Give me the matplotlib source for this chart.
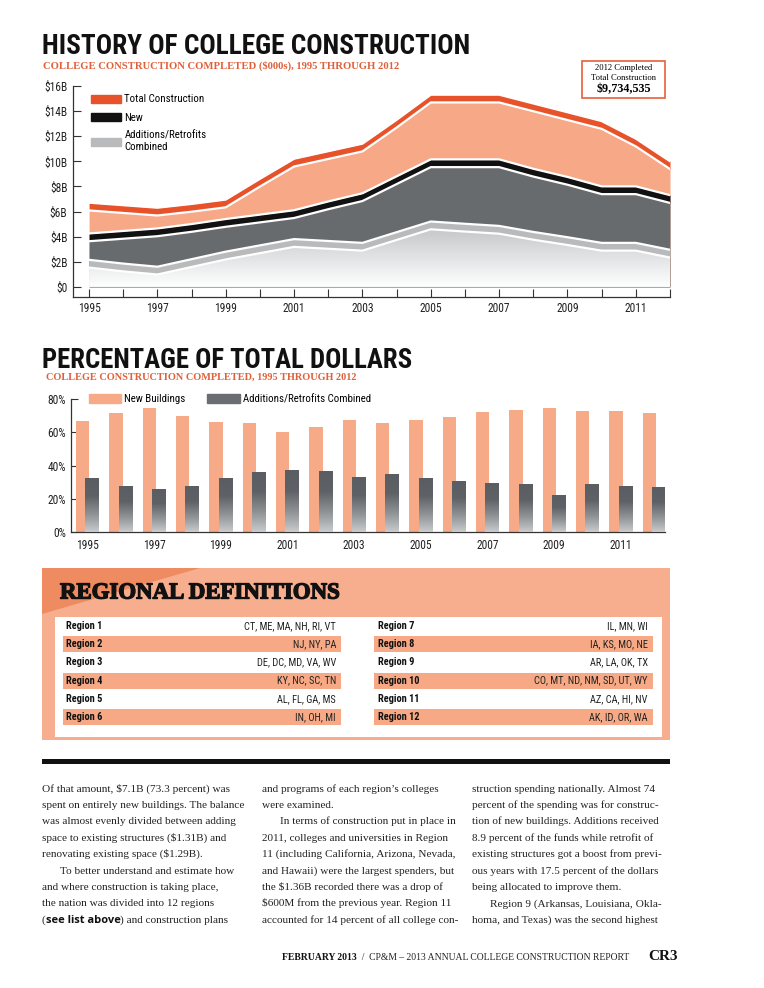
import numpy as np
import matplotlib.pyplot as plt
from matplotlib.patches import Patch, Rectangle, Polygon
from matplotlib.colors import LinearSegmentedColormap
from matplotlib import patheffects, font_manager

installed = {f.name for f in font_manager.fontManager.ttflist}
COND = [n for n in ['Liberation Sans Narrow', 'DejaVu Sans Condensed', 'Roboto Condensed']
        if n in installed] + ['DejaVu Sans']
SERIF = ['Liberation Serif', 'DejaVu Serif']
plt.rcParams['font.family'] = COND
plt.rcParams['font.stretch'] = 'condensed'

# --- data ---
years = np.arange(1995, 2013)
# $ billions, centre of each band
total_b = [6.4, 6.2, 6.0, 6.3, 6.65, 8.3, 9.9, 10.5, 11.1, 13.0, 15.0, 15.0, 15.0,
           14.3, 13.6, 12.9, 11.5, 9.7]
new_b = [3.95, 4.15, 4.35, 4.7, 5.1, 5.45, 5.8, 6.5, 7.15, 8.5, 9.85, 9.85, 9.85,
         9.1, 8.45, 7.7, 7.7, 7.0]
addret_b = [1.85, 1.55, 1.3, 1.9, 2.5, 3.0, 3.5, 3.35, 3.2, 4.05, 4.9, 4.72, 4.55,
            4.07, 3.65, 3.2, 3.2, 2.65]

pct_new = [66.9, 71.9, 74.7, 70.1, 66.3, 65.5, 60.2, 63.1, 67.5, 65.9, 67.3, 69.3,
           72.1, 73.5, 74.9, 72.7, 72.7, 71.5]
pct_addret = [32.4, 27.2, 25.6, 27.6, 32.4, 35.9, 37.3, 36.3, 33.2, 34.7, 32.2, 30.8,
              29.2, 28.4, 21.8, 28.4, 27.2, 26.6]

regions_left = ['Region 1', 'Region 2', 'Region 3', 'Region 4', 'Region 5', 'Region 6']
states_left = ['CT, ME, MA, NH, RI, VT', 'NJ, NY, PA', 'DE, DC, MD, VA, WV',
               'KY, NC, SC, TN', 'AL, FL, GA, MS', 'IN, OH, MI']
regions_right = ['Region 7', 'Region 8', 'Region 9', 'Region 10', 'Region 11', 'Region 12']
states_right = ['IL, MN, WI', 'IA, KS, MO, NE', 'AR, LA, OK, TX',
                'CO, MT, ND, NM, SD, UT, WY', 'AZ, CA, HI, NV', 'AK, ID, OR, WA']

col1 = ["Of that amount, $7.1B (73.3 percent) was",
        "spent on entirely new buildings. The balance",
        "was almost evenly divided between adding",
        "space to existing structures ($1.31B) and",
        "renovating existing space ($1.29B).",
        "To better understand and estimate how",
        "and where construction is taking place,",
        "the nation was divided into 12 regions"]
col2 = ["and programs of each region\u2019s colleges",
        "were examined.",
        "In terms of construction put in place in",
        "2011, colleges and universities in Region",
        "11 (including California, Arizona, Nevada,",
        "and Hawaii) were the largest spenders, but",
        "the $1.36B recorded there was a drop of",
        "$600M from the previous year. Region 11",
        "accounted for 14 percent of all college con-"]
col3 = ["struction spending nationally. Almost 74",
        "percent of the spending was for construc-",
        "tion of new buildings. Additions received",
        "8.9 percent of the funds while retrofit of",
        "existing structures got a boost from previ-",
        "ous years with 17.5 percent of the dollars",
        "being allocated to improve them.",
        "Region 9 (Arkansas, Louisiana, Okla-",
        "homa, and Texas) was the second highest"]

fig = plt.figure(figsize=(7.64, 9.88), dpi=100)
page = fig.add_axes([0, 0, 1, 1])
page.set_xlim(0, 764)
page.set_ylim(988, 0)
page.axis('off')
renderer = fig.canvas.get_renderer()


def px_axes(l, t, r, b):
    ax = fig.add_axes([l / 764, 1 - b / 988, (r - l) / 764, (b - t) / 988])
    ax.set_facecolor('none')
    return ax


def run(x, y, parts):
    # successive pieces of text on one baseline
    for s, kw in parts:
        t = page.text(x, y, s, va='baseline', parse_math=False, **kw)
        x += t.get_window_extent(renderer).width


def fit_width(t, width):
    w = t.get_window_extent(renderer).width
    t.set_fontsize(t.get_fontsize() * width / w)


ORANGE = '#e8522a'
SUB = '#e0603a'

# ---------------- headings ----------------
t = page.text(42, 47, 'HISTORY OF COLLEGE CONSTRUCTION', fontsize=18, weight='bold',
              va='center', color='#111')
fit_width(t, 428)
t = page.text(43, 66, 'COLLEGE CONSTRUCTION COMPLETED ($000s), 1995 THROUGH 2012',
              family=SERIF, weight='bold', fontsize=6.8, color=SUB, va='center',
              parse_math=False)
fit_width(t, 360)
page.add_patch(Rectangle((582, 61), 83, 37, fill=False, ec='#e8603c', lw=1.2))
page.text(623.5, 67.5, '2012 Completed', family=SERIF, fontsize=6.2, ha='center', va='center')
page.text(623.5, 77.5, 'Total Construction', family=SERIF, fontsize=6.2, ha='center', va='center')
page.text(623.5, 89.5, '$9,734,535', family=SERIF, fontsize=8.7, weight='bold',
          ha='center', va='center', parse_math=False)

# ---------------- history chart ----------------
ax1 = px_axes(73, 86, 670, 297)
h = 0.31
grad = np.linspace(0, 1, 256).reshape(-1, 1)
pale = LinearSegmentedColormap.from_list('pale', ['#ffffff', '#c2c4c6'])
z = 1
for vals, fill, band in [(total_b, '#f6a887', ORANGE),
                         (new_b, '#686b6e', '#111111'),
                         (addret_b, None, '#b8babc')]:
    v = np.array(vals)
    if fill is not None:
        ax1.fill_between(years, 0, v - h, color=fill, lw=0, zorder=z)
    else:
        poly = ax1.fill_between(years, 0, v - h, color='none', lw=0, zorder=z)
        im = ax1.imshow(grad, extent=[years[0], years[-1], 0, v.max()], origin='lower',
                        aspect='auto', cmap=pale, zorder=z)
        im.set_clip_path(poly.get_paths()[0], transform=ax1.transData)
    ax1.fill_between(years, v - h, v + h, color=band, lw=0, zorder=z + 1)
    ax1.plot(years, v - h, color='white', lw=1.6, zorder=z + 2)
    ax1.plot(years, v + h, color='white', lw=1.6, zorder=z + 2)
    z += 3

ax1.set_xlim(1994.53, 2012)
ax1.set_ylim(-0.8, 16)
for s in ['top', 'right']:
    ax1.spines[s].set_visible(False)
for s in ['left', 'bottom']:
    ax1.spines[s].set_color('#333')
    ax1.spines[s].set_linewidth(0.9)
ax1.set_yticks(range(0, 17, 2))
ax1.set_yticklabels(['$0'] + ['$%dB' % v for v in range(2, 17, 2)])
ax1.set_xticks(years)
ax1.set_xticklabels([str(y) if y % 2 == 1 else '' for y in years])
ax1.tick_params(direction='in', length=6, color='#333', labelsize=8.3, labelcolor='#222')
ax1.tick_params(axis='y', pad=4)
ax1.legend([Patch(color=ORANGE), Patch(color='#111111'), Patch(color='#b8babc')],
           ['Total Construction', 'New', 'Additions/Retrofits\nCombined'],
           loc='upper left', bbox_to_anchor=(0.03, 0.96), frameon=False, fontsize=7.8,
           handlelength=2.8, handleheight=0.75, handletextpad=0.3, labelspacing=0.75,
           borderpad=0, borderaxespad=0)

# ---------------- percentage chart ----------------
t = page.text(42, 360, 'PERCENTAGE OF TOTAL DOLLARS', fontsize=18, weight='bold',
              va='center', color='#111')
fit_width(t, 371)
t = page.text(46, 377, 'COLLEGE CONSTRUCTION COMPLETED, 1995 THROUGH 2012',
              family=SERIF, weight='bold', fontsize=6.8, color=SUB, va='center')
fit_width(t, 315)

ax2 = px_axes(70.7, 399.3, 665, 531.7)
ax2.bar(years - 0.14, pct_new, width=0.4, color='#f7aa87', lw=0, zorder=2)
steel = LinearSegmentedColormap.from_list('steel', ['#c9cbcd', '#8e9295', '#5e6266', '#5a5e62'])
for x, v in zip(years, pct_addret):
    ax2.imshow(grad, extent=[x + 0.14 - 0.2, x + 0.14 + 0.2, 0, v], origin='lower',
               aspect='auto', cmap=steel, zorder=3)
ax2.set_xlim(1994.5, 2012.33)
ax2.set_ylim(0, 80)
for s in ['top', 'right']:
    ax2.spines[s].set_visible(False)
for s in ['left', 'bottom']:
    ax2.spines[s].set_color('#333')
    ax2.spines[s].set_linewidth(0.9)
ax2.set_yticks(range(0, 81, 20))
ax2.set_yticklabels(['%d%%' % v for v in range(0, 81, 20)])
ax2.set_xticks(years)
ax2.set_xticklabels([str(y) if y % 2 == 1 else '' for y in years])
ax2.tick_params(direction='in', length=5, color='#333', labelsize=8.3, labelcolor='#222')
ax2.tick_params(axis='x', length=0, pad=5)
ax2.legend([Patch(color='#f7aa87'), Patch(color='#6a6e72')],
           ['New Buildings', 'Additions/Retrofits Combined'], ncol=2,
           loc='center left', bbox_to_anchor=(0.03, 1.0), frameon=False, fontsize=7.8,
           handlelength=3.0, handleheight=0.8, handletextpad=0.3, columnspacing=2.0,
           borderpad=0, borderaxespad=0)

# ---------------- regional definitions ----------------
page.add_patch(Rectangle((42, 568), 628, 172, color='#f7ae8e', lw=0))
page.add_patch(Polygon([(42, 568), (200, 568), (42, 614)], color='#ef8b60', lw=0))
t = page.text(60, 593, 'REGIONAL DEFINITIONS', family=SERIF, weight='bold', fontsize=16,
              va='center', color='#111',
              path_effects=[patheffects.withStroke(linewidth=1.0, foreground='#111')])
fit_width(t, 280)
page.add_patch(Rectangle((55, 617), 607, 120, color='white', lw=0))
for names, states, x0, x1 in [(regions_left, states_left, 62.7, 341),
                              (regions_right, states_right, 374, 652.7)]:
    for i, (r, s) in enumerate(zip(names, states)):
        y = 626 + i * 18.2
        if i % 2 == 1:
            page.add_patch(Rectangle((x0, y - 8), x1 - x0, 16, color='#f7a985', lw=0))
        page.text(x0 + 3.5, y, r, weight='bold', fontsize=7.5, va='center', color='#111')
        page.text(x1 - 5, y, s, fontsize=7.5, va='center', ha='right', color='#222')

page.add_patch(Rectangle((42, 759), 628, 5, color='#111', lw=0))

# ---------------- body text ----------------
body = dict(family=SERIF, fontsize=8.1, color='#222')
indent = {'col1': 5, 'col2': 2, 'col3': 7}
for key, lines, x in [('col1', col1, 42), ('col2', col2, 262), ('col3', col3, 472)]:
    for i, line in enumerate(lines):
        xi = x + (18 if i == indent[key] else 0)
        run(xi, 791.5 + i * 16.4, [(line, body)])
run(42, 791.5 + 8 * 16.4, [('(', body),
                          ('see list above', dict(weight='bold', fontsize=8, color='#111',
                                                  family=['Open Sans', 'DejaVu Sans'])),
                          (') and construction plans', body)])

# ---------------- footer ----------------
run(282, 960, [('FEBRUARY 2013', dict(family=SERIF, weight='bold', fontsize=6.9, color='#111')),
               ('  /  CP&M \u2013 2013 ANNUAL COLLEGE CONSTRUCTION REPORT',
                dict(family=SERIF, fontsize=6.9, color='#222'))])
page.text(648, 960, 'CR3', family=SERIF, weight='bold', fontsize=11, va='baseline', color='#111')

fig.savefig('out.png', dpi=100)
